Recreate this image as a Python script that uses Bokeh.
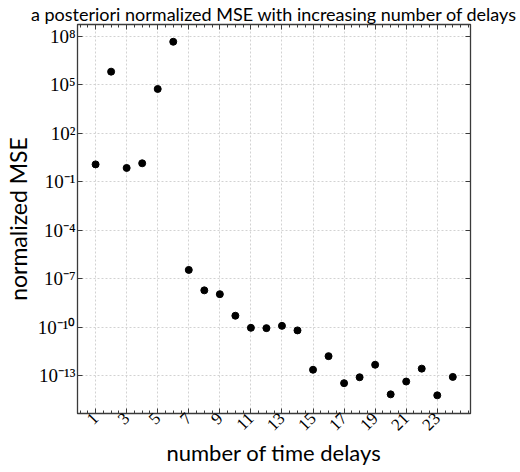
import math
from bokeh.plotting import figure
from bokeh.models import (FixedTicker, CustomJSTickFormatter, LinearAxis, LogAxis,
                          Range1d, Title, ColumnDataSource)
from bokeh.embed import file_html
from bokeh.resources import INLINE

# ---- data ----
delays = list(range(1, 25))
mse = [1.2, 6.6e5, 0.72, 1.4, 5.6e4, 4.7e7, 3.5e-7, 1.9e-8, 1.1e-8, 5.1e-10,
       9.1e-11, 8.7e-11, 1.2e-10, 6.3e-11, 2.3e-13, 1.6e-12, 3.4e-14, 7.9e-14,
       4.7e-13, 6.9e-15, 4.3e-14, 2.7e-13, 6.0e-15, 8.3e-14]
x_ticks = [1, 3, 5, 7, 9, 11, 13, 15, 17, 19, 21, 23]
x_minor = [i * 0.5 for i in range(0, 51)]
y_ticks = [1e8, 1e5, 1e2, 1e-1, 1e-4, 1e-7, 1e-10, 1e-13]

title_text = "a posteriori normalized MSE with increasing number of delays"
x_label = "number of time delays"
y_label = "normalized MSE"

FRAME = "#3a3a3a"
SANS = "Lato"
SERIF = "Liberation Serif"

W, H = 520, 472
BL, BR, BT, BB = 75, 50, 22, 59

p = figure(width=W, height=H, y_axis_type="log",
           x_range=Range1d(-0.165, 25.14), y_range=Range1d(4.5e-16, 5.5e8),
           output_backend="svg", toolbar_location=None,
           min_border_left=BL, min_border_right=BR, min_border_top=BT,
           min_border_bottom=BB, background_fill_color="white",
           border_fill_color="white")
p.outline_line_color = FRAME
p.outline_line_width = 1.3

p.title = Title(text=title_text, text_font=SANS, text_font_size="18px",
                text_font_style="normal", text_color="black", align="center",
                standoff=0, offset=-3)

src = ColumnDataSource(dict(x=delays, y=mse))
p.scatter("x", "y", source=src, size=7, color="black")

sup_js = """
const sup = {'-':'\\u207b','0':'\\u2070','1':'\\u00b9','2':'\\u00b2','3':'\\u00b3',
             '4':'\\u2074','5':'\\u2075','6':'\\u2076','7':'\\u2077','8':'\\u2078','9':'\\u2079'};
const e = Math.round(Math.log10(tick));
return '10' + String(e).split('').map(c => sup[c]).join('');
"""

xt = FixedTicker(ticks=x_ticks, minor_ticks=x_minor)
yt = FixedTicker(ticks=y_ticks, minor_ticks=[])

def style(ax):
    ax.axis_line_color = FRAME
    ax.major_tick_line_color = FRAME
    ax.minor_tick_line_color = FRAME
    ax.major_tick_in = 5
    ax.major_tick_out = 0
    ax.minor_tick_in = 3
    ax.minor_tick_out = 0

xa = p.xaxis[0]
xa.ticker = xt
xa.major_label_orientation = math.pi / 4
xa.major_label_text_font = SERIF
xa.major_label_text_font_size = "17px"
xa.major_label_text_color = "black"
xa.major_label_standoff = 2
xa.axis_label = x_label
xa.axis_label_text_font = SANS
xa.axis_label_text_font_size = "22px"
xa.axis_label_text_font_style = "normal"
xa.axis_label_text_color = "black"
xa.axis_label_standoff = 1
style(xa)

ya = p.yaxis[0]
ya.ticker = yt
ya.formatter = CustomJSTickFormatter(code=sup_js)
ya.major_label_text_font = SERIF
ya.major_label_text_font_size = "19px"
ya.major_label_text_color = "black"
ya.major_label_standoff = 2
ya.axis_label = y_label
ya.axis_label_text_font = SANS
ya.axis_label_text_font_size = "23px"
ya.axis_label_text_font_style = "normal"
ya.axis_label_text_color = "black"
ya.axis_label_standoff = 3
style(ya)

top = LinearAxis(ticker=xt, major_label_standoff=0,
                 major_label_text_font_size="1px", major_label_text_alpha=0)
style(top)
p.add_layout(top, "above")
right = LogAxis(ticker=yt, major_label_standoff=0,
                major_label_text_font_size="1px", major_label_text_alpha=0)
style(right)
p.add_layout(right, "right")

p.xgrid.ticker = xt
p.ygrid.ticker = yt
for g in (p.xgrid[0], p.ygrid[0]):
    g.grid_line_color = "#d2d2d2"
    g.grid_line_dash = "2 2"
    g.grid_line_width = 1

open("out.html", "w").write(file_html(p, INLINE))
